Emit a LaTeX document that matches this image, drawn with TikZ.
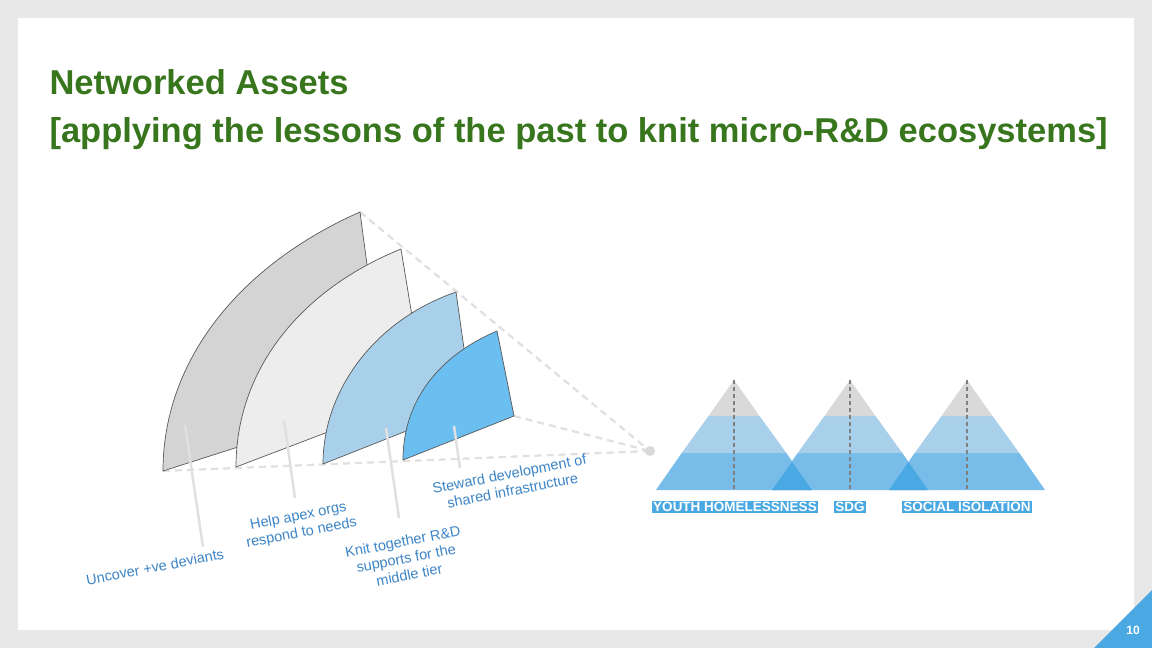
\documentclass[tikz,border=0pt]{standalone}
\usepackage{fontspec}
\setmainfont{Liberation Sans}
\begin{document}
\begin{tikzpicture}[x=1pt,y=-1pt,
  fan/.style={draw=black!65,line width=0.7pt},
  guide/.style={draw=black!12,line width=2.2pt,dash pattern=on 7pt off 5pt},
  lead/.style={draw=black!12,line width=2.5pt},
  lab/.style={font=\fontsize{14.5}{17}\selectfont,align=center,rotate=11,inner sep=0pt},
  tag/.style={fill=pyrdark,text=white,font=\bfseries\fontsize{13.5}{13.5}\selectfont,inner sep=1pt},
  axis/.style={draw=black!50,line width=1.4pt,dash pattern=on 4pt off 3pt}]
\definecolor{ttl}{HTML}{38761D}
\definecolor{labc}{HTML}{3D85C6}
\definecolor{pyrgray}{HTML}{D9D9D9}
\definecolor{pyrlight}{HTML}{A9D0EA}
\definecolor{pyrmid}{HTML}{78BDE9}
\definecolor{pyrdark}{HTML}{4AA8E3}
\definecolor{fanblue}{HTML}{6BBFF0}
\tikzset{lab/.append style={text=labc}}
\useasboundingbox (0,0) rectangle (1152,648);
\fill[black!9] (0,0) rectangle (1152,648);
\fill[white] (18,18) rectangle (1134,630);
\node[anchor=west,text=ttl,font=\bfseries\fontsize{34.5}{48}\selectfont,align=left] (title) at (46,110) {Networked Assets\\{}[applying the lessons of the past to knit micro-R\&D ecosystems]};
% guides
\coordinate (vp) at (650,451);
\coordinate (t1) at (360,212);
\coordinate (b1) at (163,471);
\coordinate (r4) at (514,416);
\draw[guide] (t1) -- (vp);
\draw[guide] (r4) -- (vp);
\draw[guide] (b1) -- (vp);
\fill[black!15] (vp) circle (5);
% fans
\draw[fan,fill=black!17] (b1) .. controls (163,360) and (240,265) .. (t1) -- (385,400) -- cycle;
\draw[fan,fill=black!7] (236,467) .. controls (236,370) and (300,290) .. (401,249) -- (425,395) -- cycle;
\draw[fan,fill=pyrlight] (323,464) .. controls (323,390) and (375,320) .. (456,292) -- (472,405) -- cycle;
\draw[fan,fill=fanblue] (403,460) .. controls (403,400) and (440,355) .. (497,331) -- (r4) -- cycle;
% leader lines
\draw[lead] (185,425) -- (203,547);
\draw[lead] (284,420) -- (295,498);
\draw[lead] (386,428) -- (399,518);
\draw[lead] (454,426) -- (460,468);
\node[lab] (l1) at (155,567) {Uncover +ve deviants};
\node[lab] (l2) at (300,525) {Help apex orgs\\respond to needs};
\node[lab] (l3) at (406,558) {Knit together R\&D\\supports for the\\middle tier};
\node[lab] (l4) at (511,482) {Steward development of\\shared infrastructure};
% pyramids
\foreach \a in {734,850,967}{
  \fill[pyrmid] (\a-78,490) -- (\a+78,490) -- (\a+52.3,453) -- (\a-52.3,453) -- cycle;
  \fill[pyrlight] (\a-52.3,453) -- (\a+52.3,453) -- (\a+25.5,416) -- (\a-25.5,416) -- cycle;
  \fill[pyrgray] (\a-25.5,416) -- (\a+25.5,416) -- (\a,380) -- cycle;
}
\fill[pyrdark] (772,490) -- (812,490) -- (792,462) -- cycle;
\fill[pyrdark] (889,490) -- (928,490) -- (908.5,462) -- cycle;
\foreach \a in {734,850,967}{ \draw[axis] (\a,380) -- (\a,490); }
\node[tag] (y) at (735,507) {YOUTH HOMELESSNESS};
\node[tag] (s) at (850,507) {SDG};
\node[tag] (so) at (967,507) {SOCIAL ISOLATION};
% page number
\fill[pyrdark] (1094,648) -- (1152,648) -- (1152,590) -- cycle;
\node[text=white,font=\bfseries\fontsize{12}{12}\selectfont] (pg) at (1133,630) {10};
\end{tikzpicture}
\end{document}
